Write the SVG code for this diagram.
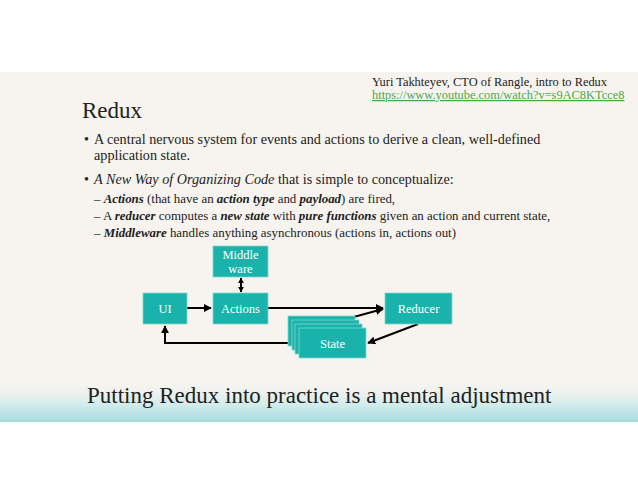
<svg xmlns="http://www.w3.org/2000/svg" width="638" height="493" viewBox="0 0 638 493">
<defs>
<linearGradient id="wash" x1="0" y1="0" x2="0" y2="1">
<stop offset="0" stop-color="#f7f4ef" stop-opacity="0"/>
<stop offset="0.6" stop-color="#d3ecec"/>
<stop offset="1" stop-color="#a8dbe2"/>
</linearGradient>
<marker id="ah" viewBox="0 0 10 10" refX="9" refY="5" markerWidth="4" markerHeight="4" orient="auto-start-reverse"><path d="M0,0 L10,5 L0,10 z" fill="#000"/></marker>
<marker id="as" viewBox="0 0 10 10" refX="9" refY="5" markerWidth="3" markerHeight="3" orient="auto-start-reverse"><path d="M0,0 L10,5 L0,10 z" fill="#000"/></marker>
<style>
.box{fill:#19b3ab;stroke:#7fd6d0;stroke-width:0.8}
.nt{font-family:"Liberation Serif",serif;font-size:12.5px;fill:#fff;text-anchor:middle}
.t{font-family:"Liberation Serif",serif;fill:#222}
.c{stroke:#000;stroke-width:2;fill:none}
</style>
</defs>
<rect width="638" height="493" fill="#fff"/>
<rect x="0" y="72" width="638" height="350" fill="#f7f4ef"/>
<rect x="0" y="378" width="638" height="44" fill="url(#wash)"/>
<text class="t" x="372" y="86" font-size="12.4">Yuri Takhteyev, CTO of Rangle, intro to Redux</text>
<text x="372" y="99" font-size="12.4" font-family="Liberation Serif,serif" fill="#4aa84a" text-decoration="underline">https://www.youtube.com/watch?v=s9AC8KTcce8</text>
<text class="t" x="82" y="118" font-size="23">Redux</text>
<g class="t" font-size="14.2">
<text x="84" y="144">•</text><text x="94" y="144">A central nervous system for events and actions to derive a clean, well-defined</text>
<text x="94" y="160">application state.</text>
<text x="84" y="184">•</text><text x="94" y="184"><tspan font-style="italic">A New Way of Organizing Code</tspan> that is simple to conceptualize:</text>
</g>
<g class="t" font-size="12.9">
<text x="94" y="203">– <tspan font-weight="bold" font-style="italic">Actions</tspan> (that have an <tspan font-weight="bold" font-style="italic">action type</tspan> and <tspan font-weight="bold" font-style="italic">payload</tspan>) are fired,</text>
<text x="94" y="220">– A <tspan font-weight="bold" font-style="italic">reducer</tspan> computes a <tspan font-weight="bold" font-style="italic">new state</tspan> with <tspan font-weight="bold" font-style="italic">pure functions</tspan> given an action and current state,</text>
<text x="94" y="237">– <tspan font-weight="bold" font-style="italic">Middleware</tspan> handles anything asynchronous (actions in, actions out)</text>
</g>
<g id="connectors">
<path class="c" d="M241,278 V292" marker-start="url(#as)" marker-end="url(#as)"/>
<path class="c" d="M187,308 H211" marker-end="url(#ah)"/>
<path class="c" d="M268,308 H383" marker-end="url(#ah)"/>
<path class="c" d="M328,324 L383,309" marker-end="url(#ah)"/>
<path class="c" d="M418,324 L368,343" marker-end="url(#ah)"/>
<path class="c" d="M299,343 H165 V326" marker-end="url(#ah)"/>
</g>
<g id="middleware"><rect class="box" x="213" y="246" width="55" height="31"/><text class="nt" x="240.5" y="259">Middle</text><text class="nt" x="240.5" y="273">ware</text></g>
<g id="ui"><rect class="box" x="143" y="293" width="44" height="31"/><text class="nt" x="165" y="313">UI</text></g>
<g id="actions"><rect class="box" x="213" y="293" width="55" height="31"/><text class="nt" x="240.5" y="313">Actions</text></g>
<g id="reducer"><rect class="box" x="385" y="293" width="67" height="31"/><text class="nt" x="418.5" y="313">Reducer</text></g>
<g id="state">
<rect class="box" x="288" y="316" width="67" height="30"/>
<rect class="box" x="292" y="320" width="67" height="30"/>
<rect class="box" x="295" y="324" width="67" height="30"/>
<rect class="box" x="299" y="328" width="67" height="30"/>
<text class="nt" x="332.5" y="348">State</text>
</g>
<text class="t" x="87" y="403" font-size="23">Putting Redux into practice is a mental adjustment</text>
</svg>
